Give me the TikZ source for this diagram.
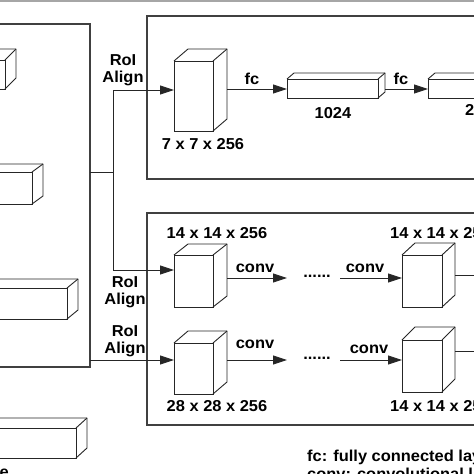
\documentclass[tikz,border=0pt]{standalone}
\usepackage{fontspec}
\setmainfont{Liberation Sans}[FakeStretch=1.04]
\usetikzlibrary{arrows.meta}
\tikzset{
  frame/.style={draw=black!75, line width=1.3pt},
  face/.style={draw=black!85, line width=0.9pt, fill=white, inner sep=0pt, outer sep=0pt},
  edge/.style={draw=black!85, line width=0.9pt, line join=round},
  arr/.style={draw=black!85, line width=0.9pt, -{Triangle[length=14pt,width=9pt]}},
  wire/.style={draw=black!85, line width=0.9pt},
  lbl/.style={font=\fontsize{15.8pt}{17.5pt}\selectfont\bfseries, inner sep=0pt, align=center},
}
\newcommand\mkcube[7]{%
  \node[face, minimum width={(#4)*1pt-(#2)*1pt}, minimum height={(#5)*1pt-(#3)*1pt}] (#1) at ({(#2+#4)/2},{(#3+#5)/2}) {};
  \draw[edge] (#1.north west) -- ++(#6,#7) -- ++({#4-#2},0) -- ++(0,{#5-#3}) -- (#1.south east);
  \draw[edge] (#1.north east) -- ++(#6,#7);
}
\begin{document}
\begin{tikzpicture}[x=1pt,y=-1pt]
\useasboundingbox (0,0) rectangle (474,474);
\clip (0,0) rectangle (474,474);
\fill[white] (0,0) rectangle (474,474);
\fill[black!35] (0,0) rectangle (474,2.2);

% frames
\draw[frame] (-10,24) rectangle (90,367);
\draw[frame] (147,16) rectangle (490,179);
\draw[frame] (147,213) rectangle (490,425);

% left cubes (feature pyramid)
\mkcube{L1}{-30}{60}{5}{89}{11}{-11}
\mkcube{L2}{-40}{172}{32}{204}{11}{-8}
\mkcube{L3}{-40}{288}{67}{319}{11}{-9}
\mkcube{L4}{-40}{428}{76}{458}{11}{-10}
\node[lbl, anchor=east] (lblL) at (9,473) {e};

% box head
\mkcube{H1}{174}{61}{213}{131}{14}{-12}
\mkcube{B1}{287}{79}{378}{98}{7}{-6}
\mkcube{B2}{428}{79}{520}{98}{7}{-6}

% mask head
\mkcube{M1}{174}{255}{213}{307}{14}{-11}
\mkcube{M2}{402}{255}{442}{307}{13}{-12}
\mkcube{M3}{174}{343}{213}{394}{14}{-12}
\mkcube{M4}{402}{340}{442}{392}{13}{-13}

% junction coordinates
\coordinate (o1) at (90,172);
\coordinate (j0) at (113,172);
\coordinate (j1) at (113,90);
\coordinate (j2) at (113,270);
\coordinate (o2) at (90,360);
\coordinate (h1r) at (227,89);
\coordinate (b1r) at (385,89);
\coordinate (m1r) at (227,278);
\coordinate (d1a) at (287,278);
\coordinate (d1b) at (340,278);
\coordinate (m2r) at (455,275);
\coordinate (m2e) at (480,275);
\coordinate (m3r) at (227,360);
\coordinate (d2a) at (287,360);
\coordinate (d2b) at (340,360);
\coordinate (m4r) at (455,351);
\coordinate (m4e) at (480,351);

\draw[wire] (o1) -- (j0);
\draw[wire] (j1) -- (j2);
\draw[arr] (j1) -- (H1.west |- j1);
\draw[arr] (j2) -- (M1.west |- j2);
\draw[arr] (o2) -- (M3.west |- o2);
\draw[arr] (h1r) -- (B1.west |- h1r);
\draw[arr] (b1r) -- (B2.west |- b1r);
\draw[arr] (m1r) -- (d1a);
\draw[arr] (d1b) -- (M2.west |- d1b);
\draw[wire] (m2r) -- (m2e);
\draw[arr] (m3r) -- (d2a);
\draw[arr] (d2b) -- (M4.west |- d2b);
\draw[wire] (m4r) -- (m4e);

% labels
\node[lbl] (r1) at (123,70) {RoI\\Align};
\node[lbl] (r2) at (125,292) {RoI\\Align};
\node[lbl] (r3) at (125,341) {RoI\\Align};
\node[lbl] (f1) at (252,79) {fc};
\node[lbl] (f2) at (401,79) {fc};
\node[lbl] (s1) at (203,144) {7 x 7 x 256};
\node[lbl] (s2) at (333,113) {1024};
\node[lbl, anchor=west] (s3) at (465,110) {2};
\node[lbl] (s4) at (217,233) {14 x 14 x 256};
\node[lbl] (s5) at (217,406) {28 x 28 x 256};
\node[lbl, anchor=west] (s6) at (390,233) {14 x 14 x 256};
\node[lbl, anchor=west] (s7) at (390,406) {14 x 14 x 256};
\node[lbl] (c1) at (255,268) {conv};
\node[lbl] (c2) at (365,268) {conv};
\node[lbl] (c3) at (255,344) {conv};
\node[lbl] (c4) at (369,349) {conv};
\node[lbl] (dt1) at (317,276) {......};
\node[lbl] (dt2) at (317,358) {......};
\node[lbl, anchor=west] (lg1) at (307,457) {fc: fully connected layer};
\node[lbl, anchor=west] (lg2) at (307,475) {conv: convolutional layer};
\end{tikzpicture}
\end{document}
